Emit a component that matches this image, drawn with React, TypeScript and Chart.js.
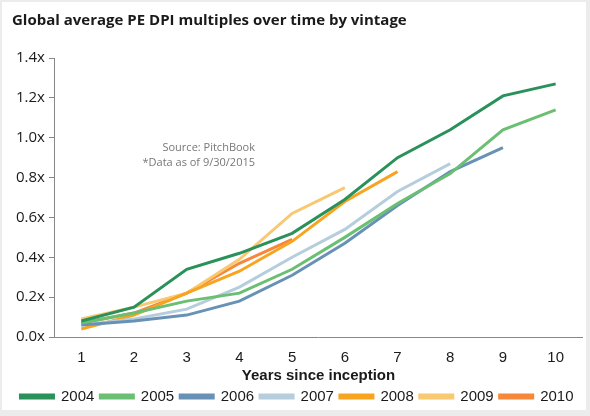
import { useEffect, useRef } from "react"
import { Chart, registerables } from "chart.js"

Chart.register(...registerables)

const years = ["1", "2", "3", "4", "5", "6", "7", "8", "9", "10"]
const vintages = ["2004", "2005", "2006", "2007", "2008", "2009", "2010"]
const colors = ["#2a915a", "#6abf72", "#6892b5", "#b5cddc", "#f7a520", "#f8c873", "#f5883a"]

const v2004 = [0.08, 0.15, 0.34, 0.42, 0.52, 0.69, 0.9, 1.04, 1.21, 1.27]
const v2005 = [0.07, 0.12, 0.18, 0.22, 0.34, 0.5, 0.67, 0.82, 1.04, 1.14]
const v2006 = [0.06, 0.08, 0.11, 0.18, 0.31, 0.47, 0.66, 0.83, 0.95]
const v2007 = [0.06, 0.09, 0.14, 0.25, 0.4, 0.54, 0.73, 0.87]
const v2008 = [0.04, 0.11, 0.22, 0.33, 0.48, 0.68, 0.83]
const v2009 = [0.09, 0.15, 0.22, 0.39, 0.62, 0.75]
const v2010 = [0.07, 0.12, 0.22, 0.37, 0.49]
const seriesValues = [v2004, v2005, v2006, v2007, v2008, v2009, v2010]

const yTicks = [0, 0.2, 0.4, 0.6, 0.8, 1.0, 1.2, 1.4]

const FONT = "'Open Sans', sans-serif"
const LABEL_FONT = "'Liberation Sans', sans-serif"

// title and source note drawn straight onto the canvas
const textPlugin = {
  id: "textPlugin",
  afterDraw(chart: Chart) {
    const ctx = chart.ctx
    ctx.save()
    ctx.fillStyle = "#1a1a1a"
    ctx.font = `bold 15px ${FONT}`
    ctx.textBaseline = "middle"
    ctx.textAlign = "left"
    ctx.fillText("Global average PE DPI multiples over time by vintage", 10, 19)

    ctx.fillStyle = "#777"
    ctx.font = `11px ${FONT}`
    ctx.textAlign = "right"
    ctx.fillText("Source: PitchBook", 253, 146)
    ctx.fillText("*Data as of 9/30/2015", 253, 161)
    ctx.restore()
  },
}

export default function App() {
  const chartRef = useRef<HTMLCanvasElement>(null)

  useEffect(() => {
    document.body.style.margin = "0"
    if (!chartRef.current) return
    const ctx = chartRef.current.getContext("2d")
    if (!ctx) return

    const chart = new Chart(ctx, {
      type: "line",
      data: {
        labels: years,
        datasets: vintages.map((v, i) => ({
          label: v,
          data: seriesValues[i],
          borderColor: colors[i],
          backgroundColor: colors[i],
          borderWidth: 3,
          pointRadius: 0,
          tension: 0,
        })),
      },
      options: {
        animation: false,
        responsive: false,
        layout: {
          padding: { top: 56, left: 10, right: 4, bottom: -4 },
        },
        plugins: {
          title: { display: false },
          tooltip: { enabled: false },
          legend: {
            position: "bottom",
            labels: {
              color: "#1a1a1a",
              boxWidth: 33,
              boxHeight: 3,
              padding: 6,
              font: { family: LABEL_FONT, size: 15 },
            },
          },
        },
        scales: {
          x: {
            offset: true,
            grid: { display: false, drawTicks: false },
            border: { display: true, color: "#888", width: 1 },
            ticks: {
              color: "#1a1a1a",
              padding: 12,
              font: { family: LABEL_FONT, size: 15 },
            },
            title: {
              display: true,
              text: "Years since inception",
              color: "#1a1a1a",
              padding: { top: -12, bottom: -2 },
              font: { family: LABEL_FONT, size: 15, weight: "bold" },
            },
          },
          y: {
            min: 0,
            max: 1.4,
            afterBuildTicks: (axis) => {
              axis.ticks = yTicks.map((value) => ({ value }))
            },
            grid: {
              drawOnChartArea: false,
              drawTicks: true,
              tickLength: 6,
              color: "#888",
            },
            border: { display: true, color: "#888", width: 1 },
            ticks: {
              color: "#1a1a1a",
              padding: 4,
              font: { family: FONT, size: 15 },
              callback: (v) => Number(v).toFixed(1) + "x",
            },
          },
        },
      },
      plugins: [textPlugin],
    })

    return () => {
      chart.destroy()
    }
  }, [])

  return (
    <div
      style={{
        width: 590,
        height: 416,
        boxSizing: "border-box",
        borderStyle: "solid",
        borderColor: "#ececec",
        borderWidth: "2px 4px 6px 2px",
        background: "#fff",
      }}
    >
      <canvas ref={chartRef} width={584} height={408} style={{ display: "block" }} />
    </div>
  )
}
